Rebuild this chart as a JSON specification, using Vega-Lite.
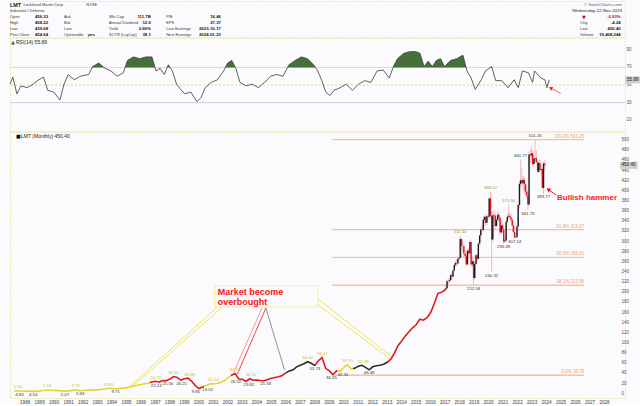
{
"$schema": "https://vega.github.io/schema/vega-lite/v6.json",
"background": "#fbfbfd",
"padding": {"left": 7, "top": 0, "right": 0, "bottom": 0},
"config": {
  "view": {"stroke": "#e0d670", "strokeDash": [1, 2], "strokeWidth": 1},
  "font": "Liberation Sans"
},
"datasets": {
  "hdr": [
    {"k": "T", "u": 0, "r": 0, "s": "LMT", "col": "#111"},
    {"k": "L", "u": 2.2, "r": 0, "s": "Lockheed Martin Corp", "col": "#333"},
    {"k": "L", "u": 12.4, "r": 0, "s": "NYSE", "col": "#333"},
    {"k": "R", "u": 99.5, "r": 0, "s": "© StockCharts.com", "col": "#555"},
    {"k": "L", "u": 0, "r": 1, "s": "Industrial / Defense", "col": "#333"},
    {"k": "R", "u": 99.5, "r": 1, "s": "Wednesday  22-Nov-2023", "col": "#222"},
    {"k": "L", "u": 0, "r": 2, "s": "Open", "col": "#333"},
    {"k": "L", "u": 8.8, "r": 2, "s": "Ask", "col": "#333"},
    {"k": "L", "u": 16.1, "r": 2, "s": "Mkt Cap.", "col": "#333"},
    {"k": "L", "u": 25.4, "r": 2, "s": "P/E", "col": "#333"},
    {"k": "V", "u": 6.2, "r": 2, "s": "456.33", "col": "#111"},
    {"k": "V", "u": 22.9, "r": 2, "s": "111.7B", "col": "#111"},
    {"k": "V", "u": 34.3, "r": 2, "s": "16.46", "col": "#111"},
    {"k": "G", "u": 93.0, "r": 2, "s": "▼", "col": "#c0102a"},
    {"k": "V", "u": 99.3, "r": 2, "s": "-0.93%", "col": "#c0102a"},
    {"k": "L", "u": 0, "r": 3, "s": "High", "col": "#333"},
    {"k": "L", "u": 8.8, "r": 3, "s": "Bid", "col": "#333"},
    {"k": "L", "u": 16.1, "r": 3, "s": "Annual Dividend", "col": "#333"},
    {"k": "L", "u": 25.4, "r": 3, "s": "EPS", "col": "#333"},
    {"k": "V", "u": 6.2, "r": 3, "s": "458.22", "col": "#111"},
    {"k": "V", "u": 22.9, "r": 3, "s": "12.0", "col": "#111"},
    {"k": "V", "u": 34.3, "r": 3, "s": "27.37", "col": "#111"},
    {"k": "L", "u": 92.7, "r": 3, "s": "Chg", "col": "#333"},
    {"k": "V", "u": 99.3, "r": 3, "s": "-4.24", "col": "#111"},
    {"k": "L", "u": 0, "r": 4, "s": "Low", "col": "#333"},
    {"k": "L", "u": 8.8, "r": 4, "s": "Last", "col": "#333"},
    {"k": "L", "u": 16.1, "r": 4, "s": "Yield", "col": "#333"},
    {"k": "L", "u": 25.4, "r": 4, "s": "Last Earnings", "col": "#333"},
    {"k": "V", "u": 6.2, "r": 4, "s": "439.68", "col": "#111"},
    {"k": "V", "u": 22.9, "r": 4, "s": "2.66%", "col": "#111"},
    {"k": "V", "u": 34.3, "r": 4, "s": "2023-10-17", "col": "#111"},
    {"k": "L", "u": 92.7, "r": 4, "s": "Last", "col": "#333"},
    {"k": "V", "u": 99.3, "r": 4, "s": "450.40", "col": "#111"},
    {"k": "L", "u": 0, "r": 5, "s": "Prev Close", "col": "#333"},
    {"k": "L", "u": 8.8, "r": 5, "s": "Optionable", "col": "#333"},
    {"k": "L", "u": 16.1, "r": 5, "s": "SCTR (LrgCap)", "col": "#333"},
    {"k": "L", "u": 25.4, "r": 5, "s": "Next Earnings", "col": "#333"},
    {"k": "V", "u": 6.2, "r": 5, "s": "454.64", "col": "#111"},
    {"k": "V", "u": 13.8, "r": 5, "s": "yes", "col": "#111"},
    {"k": "V", "u": 22.9, "r": 5, "s": "38.1", "col": "#111"},
    {"k": "V", "u": 34.3, "r": 5, "s": "2024-01-23", "col": "#111"},
    {"k": "L", "u": 92.7, "r": 5, "s": "Volume", "col": "#333"},
    {"k": "V", "u": 99.3, "r": 5, "s": "19,408,244", "col": "#111"}
  ],
  "rsilv": [
    {"v": 70, "d": 0, "col": "#ece27a"},
    {"v": 30, "d": 0, "col": "#cfcfe8"},
    {"v": 50, "d": 1, "col": "#e6da5a"}
  ],
  "rt": [{"v": 10, "x": 2029.07}, {"v": 30, "x": 2029.07}, {"v": 50, "x": 2029.07}, {"v": 70, "x": 2029.07}, {"v": 90, "x": 2029.07}],
  "rsi": [
    {"t":1987.30,"v":51},{"t":1987.49,"v":59},{"t":1987.77,"v":40},{"t":1988.05,"v":49},{"t":1988.47,"v":47},{"t":1988.88,"v":51},
    {"t":1989.16,"v":55},{"t":1989.58,"v":59},{"t":1989.86,"v":44},{"t":1990.27,"v":42},{"t":1990.69,"v":33},{"t":1990.97,"v":51},
    {"t":1991.25,"v":62},{"t":1991.66,"v":56},{"t":1992.08,"v":60},{"t":1992.64,"v":62},{"t":1992.91,"v":71},{"t":1993.33,"v":75},
    {"t":1993.75,"v":69},{"t":1994.16,"v":66},{"t":1994.58,"v":60},{"t":1995.00,"v":64},{"t":1995.28,"v":78},{"t":1995.69,"v":82},
    {"t":1996.11,"v":80},{"t":1996.53,"v":82},{"t":1996.94,"v":82},{"t":1997.22,"v":66},{"t":1997.50,"v":69},{"t":1997.78,"v":62},
    {"t":1998.05,"v":73},{"t":1998.33,"v":66},{"t":1998.61,"v":51},{"t":1998.89,"v":45},{"t":1999.17,"v":40},{"t":1999.58,"v":42},
    {"t":2000.00,"v":31},{"t":2000.28,"v":36},{"t":2000.56,"v":47},{"t":2000.97,"v":53},{"t":2001.39,"v":56},{"t":2001.81,"v":66},
    {"t":2002.08,"v":75},{"t":2002.36,"v":78},{"t":2002.64,"v":69},{"t":2002.92,"v":53},{"t":2003.33,"v":49},{"t":2003.75,"v":51},
    {"t":2004.17,"v":47},{"t":2004.59,"v":53},{"t":2005.00,"v":60},{"t":2005.42,"v":62},{"t":2005.84,"v":60},{"t":2006.25,"v":73},
    {"t":2006.67,"v":78},{"t":2007.09,"v":82},{"t":2007.50,"v":80},{"t":2007.92,"v":73},{"t":2008.20,"v":66},{"t":2008.48,"v":55},
    {"t":2008.75,"v":42},{"t":2009.03,"v":38},{"t":2009.31,"v":44},{"t":2009.73,"v":47},{"t":2010.14,"v":51},{"t":2010.56,"v":44},
    {"t":2010.98,"v":51},{"t":2011.39,"v":55},{"t":2011.81,"v":53},{"t":2012.23,"v":66},{"t":2012.65,"v":67},{"t":2013.06,"v":58},
    {"t":2013.34,"v":71},{"t":2013.62,"v":80},{"t":2014.03,"v":86},{"t":2014.45,"v":88},{"t":2014.87,"v":88},{"t":2015.15,"v":86},
    {"t":2015.42,"v":71},{"t":2015.70,"v":77},{"t":2015.98,"v":71},{"t":2016.26,"v":78},{"t":2016.54,"v":80},{"t":2016.81,"v":71},
    {"t":2017.23,"v":78},{"t":2017.65,"v":80},{"t":2018.06,"v":84},{"t":2018.34,"v":66},{"t":2018.62,"v":58},{"t":2018.90,"v":45},
    {"t":2019.31,"v":56},{"t":2019.59,"v":66},{"t":2020.01,"v":71},{"t":2020.29,"v":55},{"t":2020.70,"v":55},{"t":2021.12,"v":47},
    {"t":2021.54,"v":56},{"t":2021.82,"v":47},{"t":2022.10,"v":66},{"t":2022.51,"v":64},{"t":2022.79,"v":53},{"t":2022.93,"v":66},
    {"t":2023.35,"v":58},{"t":2023.63,"v":56},{"t":2023.77,"v":47},{"t":2023.92,"v":55.89}
  ],
  "ob": [
    {"seg":1,"t":1992.88,"v":70},{"seg":1,"t":1992.91,"v":71},{"seg":1,"t":1993.33,"v":75},{"seg":1,"t":1993.68,"v":70},
    {"seg":2,"t":1995.12,"v":70},{"seg":2,"t":1995.28,"v":78},{"seg":2,"t":1995.69,"v":82},{"seg":2,"t":1996.11,"v":80},{"seg":2,"t":1996.53,"v":82},{"seg":2,"t":1996.94,"v":82},{"seg":2,"t":1997.15,"v":70},
    {"seg":3,"t":1997.98,"v":70},{"seg":3,"t":1998.05,"v":73},{"seg":3,"t":1998.17,"v":70},
    {"seg":4,"t":2001.93,"v":70},{"seg":4,"t":2002.08,"v":75},{"seg":4,"t":2002.36,"v":78},{"seg":4,"t":2002.61,"v":70},
    {"seg":5,"t":2006.16,"v":70},{"seg":5,"t":2006.25,"v":73},{"seg":5,"t":2006.67,"v":78},{"seg":5,"t":2007.09,"v":82},{"seg":5,"t":2007.50,"v":80},{"seg":5,"t":2007.92,"v":73},{"seg":5,"t":2008.04,"v":70},
    {"seg":6,"t":2013.32,"v":70},{"seg":6,"t":2013.34,"v":71},{"seg":6,"t":2013.62,"v":80},{"seg":6,"t":2014.03,"v":86},{"seg":6,"t":2014.45,"v":88},{"seg":6,"t":2014.87,"v":88},{"seg":6,"t":2015.15,"v":86},{"seg":6,"t":2015.42,"v":71},{"seg":6,"t":2015.70,"v":77},{"seg":6,"t":2015.98,"v":71},{"seg":6,"t":2016.26,"v":78},{"seg":6,"t":2016.54,"v":80},{"seg":6,"t":2016.81,"v":71},{"seg":6,"t":2017.23,"v":78},{"seg":6,"t":2017.65,"v":80},{"seg":6,"t":2018.06,"v":84},{"seg":6,"t":2018.28,"v":70},
    {"seg":7,"t":2019.93,"v":70},{"seg":7,"t":2020.01,"v":71},{"seg":7,"t":2020.03,"v":70}
  ],
  "rarr": [{"t1": 2024.7, "v1": 40.6, "t2": 2024.02, "v2": 46.5}],
  "legr": [{"s": "RSI(14) 55.89", "t": 1987.3, "v": 103.5}],
  "tagr": [{"v": 55.89, "s": "55.89", "t": 2029.07}],
  "xt": [
    {"t":1988,"p":-8.5},{"t":1989,"p":-8.5},{"t":1990,"p":-8.5},{"t":1991,"p":-8.5},{"t":1992,"p":-8.5},{"t":1993,"p":-8.5},{"t":1994,"p":-8.5},
    {"t":1995,"p":-8.5},{"t":1996,"p":-8.5},{"t":1997,"p":-8.5},{"t":1998,"p":-8.5},{"t":1999,"p":-8.5},{"t":2000,"p":-8.5},{"t":2001,"p":-8.5},
    {"t":2002,"p":-8.5},{"t":2003,"p":-8.5},{"t":2004,"p":-8.5},{"t":2005,"p":-8.5},{"t":2006,"p":-8.5},{"t":2007,"p":-8.5},{"t":2008,"p":-8.5},
    {"t":2009,"p":-8.5},{"t":2010,"p":-8.5},{"t":2011,"p":-8.5},{"t":2012,"p":-8.5},{"t":2013,"p":-8.5},{"t":2014,"p":-8.5},{"t":2015,"p":-8.5},
    {"t":2016,"p":-8.5},{"t":2017,"p":-8.5},{"t":2018,"p":-8.5},{"t":2019,"p":-8.5},{"t":2020,"p":-8.5},{"t":2021,"p":-8.5},{"t":2022,"p":-8.5},
    {"t":2023,"p":-8.5},{"t":2024,"p":-8.5},{"t":2025,"p":-8.5},{"t":2026,"p":-8.5},{"t":2027,"p":-8.5},{"t":2028,"p":-8.5}
  ],
  "yt": [
    {"p":0,"t":2029.07},{"p":20,"t":2029.07},{"p":40,"t":2029.07},{"p":60,"t":2029.07},{"p":80,"t":2029.07},{"p":100,"t":2029.07},
    {"p":120,"t":2029.07},{"p":140,"t":2029.07},{"p":160,"t":2029.07},{"p":180,"t":2029.07},{"p":200,"t":2029.07},{"p":220,"t":2029.07},
    {"p":240,"t":2029.07},{"p":260,"t":2029.07},{"p":280,"t":2029.07},{"p":300,"t":2029.07},{"p":320,"t":2029.07},{"p":340,"t":2029.07},
    {"p":360,"t":2029.07},{"p":380,"t":2029.07},{"p":400,"t":2029.07},{"p":420,"t":2029.07},{"p":440,"t":2029.07},{"p":460,"t":2029.07},
    {"p":480,"t":2029.07},{"p":500,"t":2029.07}
  ],
  "px": [
    {"t":1987.25,"c":5.3},{"t":1987.5,"c":5.9},{"t":1987.75,"c":4.9},{"t":1988.0,"c":5.0},{"t":1988.25,"c":5.3},{"t":1988.5,"c":4.6},{"t":1988.75,"c":5.0},
    {"t":1989.0,"c":5.5},{"t":1989.25,"c":6.3},{"t":1989.5,"c":7.4},{"t":1989.75,"c":6.9},{"t":1990.0,"c":6.4},{"t":1990.25,"c":6.0},{"t":1990.5,"c":5.6},{"t":1990.75,"c":5.1},
    {"t":1991.0,"c":5.6},{"t":1991.25,"c":6.6},{"t":1991.5,"c":7.6},{"t":1991.75,"c":6.0},{"t":1992.0,"c":6.4},{"t":1992.25,"c":6.9},{"t":1992.5,"c":7.3},{"t":1992.75,"c":7.6},
    {"t":1993.0,"c":8.0},{"t":1993.25,"c":8.6},{"t":1993.5,"c":9.4},{"t":1993.75,"c":10.6},{"t":1994.0,"c":10.2},{"t":1994.25,"c":9.8},{"t":1994.5,"c":10.3},{"t":1994.75,"c":11.0},
    {"t":1995.0,"c":12.0},{"t":1995.25,"c":13.5},{"t":1995.5,"c":15.2},{"t":1995.75,"c":16.5},{"t":1996.0,"c":18.0},{"t":1996.25,"c":19.5},{"t":1996.5,"c":20.5},{"t":1996.75,"c":23.0},
    {"t":1997.0,"c":24.4},{"t":1997.25,"c":22.6},{"t":1997.5,"c":26.0},{"t":1997.75,"c":25.7},{"t":1998.0,"c":29.0},{"t":1998.25,"c":33.8},{"t":1998.5,"c":32.0},{"t":1998.75,"c":26.8},
    {"t":1999.0,"c":29.5},{"t":1999.25,"c":30.6},{"t":1999.5,"c":24.5},{"t":1999.75,"c":16.0},{"t":2000.0,"c":10.2},{"t":2000.25,"c":13.4},{"t":2000.5,"c":16.0},{"t":2000.75,"c":19.0},
    {"t":2001.0,"c":19.5},{"t":2001.25,"c":20.0},{"t":2001.5,"c":22.0},{"t":2001.75,"c":25.5},{"t":2002.0,"c":31.0},{"t":2002.25,"c":36.5},{"t":2002.5,"c":40.0},{"t":2002.75,"c":29.0},
    {"t":2003.0,"c":28.5},{"t":2003.25,"c":24.2},{"t":2003.5,"c":29.5},{"t":2003.75,"c":26.5},{"t":2004.0,"c":27.0},{"t":2004.25,"c":26.0},{"t":2004.5,"c":25.5},{"t":2004.75,"c":28.0},
    {"t":2005.0,"c":30.5},{"t":2005.25,"c":32.0},{"t":2005.5,"c":33.5},{"t":2005.75,"c":36.0},{"t":2006.0,"c":41.0},{"t":2006.25,"c":45.0},{"t":2006.5,"c":47.0},{"t":2006.75,"c":53.0},
    {"t":2007.0,"c":56.0},{"t":2007.25,"c":59.0},{"t":2007.5,"c":63.0},{"t":2007.75,"c":60.0},{"t":2008.0,"c":55.5},{"t":2008.25,"c":65.0},{"t":2008.5,"c":71.0},{"t":2008.75,"c":50.0},
    {"t":2009.0,"c":45.0},{"t":2009.25,"c":37.5},{"t":2009.5,"c":45.0},{"t":2009.75,"c":44.0},{"t":2010.0,"c":52.0},{"t":2010.25,"c":57.0},{"t":2010.5,"c":49.0},{"t":2010.75,"c":50.0},
    {"t":2011.0,"c":54.0},{"t":2011.25,"c":56.0},{"t":2011.5,"c":52.0},{"t":2011.75,"c":47.0},{"t":2012.0,"c":53.0},{"t":2012.25,"c":55.0},{"t":2012.5,"c":56.0},{"t":2012.75,"c":58.0},
    {"t":2013.0,"c":62.0},{"t":2013.25,"c":68.0},{"t":2013.5,"c":80.0},{"t":2013.75,"c":95.0},{"t":2014.0,"c":104.0},{"t":2014.25,"c":114.0},{"t":2014.5,"c":122.0},{"t":2014.75,"c":130.0},
    {"t":2015.0,"c":136.0},{"t":2015.25,"c":147.0},{"t":2015.5,"c":145.0},{"t":2015.75,"c":150.0},{"t":2016.0,"c":160.0},{"t":2016.25,"c":178.0},{"t":2016.5,"c":198.0},{"t":2016.75,"c":200.0},
    {"t":2017.0,"c":205.0}
  ],
  "cd": [
    {"t":2017.04,"o":205,"h":215,"l":200,"c":208},{"t":2017.13,"o":208,"h":225,"l":206,"c":222},{"t":2017.21,"o":222,"h":227,"l":216,"c":222},
    {"t":2017.29,"o":222,"h":229,"l":219,"c":224},{"t":2017.38,"o":224,"h":236,"l":222,"c":234},{"t":2017.46,"o":234,"h":238,"l":228,"c":231},
    {"t":2017.54,"o":231,"h":246,"l":229,"c":243},{"t":2017.63,"o":243,"h":256,"l":240,"c":254},{"t":2017.71,"o":254,"h":262,"l":250,"c":258},
    {"t":2017.79,"o":258,"h":265,"l":252,"c":257},{"t":2017.88,"o":257,"h":268,"l":254,"c":266},{"t":2017.96,"o":266,"h":272,"l":262,"c":268},
    {"t":2018.04,"o":268,"h":312,"l":266,"c":305},{"t":2018.13,"o":305,"h":307,"l":268,"c":291},{"t":2018.21,"o":291,"h":300,"l":280,"c":291},
    {"t":2018.29,"o":291,"h":296,"l":270,"c":276},{"t":2018.38,"o":276,"h":283,"l":262,"c":271},{"t":2018.46,"o":271,"h":276,"l":252,"c":255},
    {"t":2018.54,"o":255,"h":286,"l":253,"c":282},{"t":2018.63,"o":282,"h":287,"l":272,"c":277},{"t":2018.71,"o":277,"h":303,"l":275,"c":299},
    {"t":2018.79,"o":299,"h":301,"l":250,"c":255},{"t":2018.88,"o":255,"h":270,"l":250,"c":261},{"t":2018.96,"o":261,"h":265,"l":213,"c":228},
    {"t":2019.04,"o":228,"h":260,"l":225,"c":256},{"t":2019.13,"o":256,"h":276,"l":254,"c":273},{"t":2019.21,"o":273,"h":278,"l":262,"c":266},
    {"t":2019.29,"o":266,"h":298,"l":264,"c":296},{"t":2019.38,"o":296,"h":315,"l":292,"c":312},{"t":2019.46,"o":312,"h":327,"l":300,"c":324},
    {"t":2019.54,"o":324,"h":332,"l":318,"c":323},{"t":2019.63,"o":323,"h":345,"l":320,"c":343},{"t":2019.71,"o":343,"h":352,"l":336,"c":349},
    {"t":2019.79,"o":349,"h":352,"l":330,"c":337},{"t":2019.88,"o":337,"h":353,"l":333,"c":350},{"t":2019.96,"o":350,"h":356,"l":343,"c":349},
    {"t":2020.04,"o":349,"h":388,"l":347,"c":385},{"t":2020.13,"o":385,"h":398,"l":345,"c":351},{"t":2020.21,"o":351,"h":360,"l":240,"c":304},
    {"t":2020.29,"o":304,"h":358,"l":300,"c":352},{"t":2020.38,"o":352,"h":362,"l":340,"c":351},{"t":2020.46,"o":351,"h":355,"l":325,"c":331},
    {"t":2020.54,"o":331,"h":348,"l":328,"c":343},{"t":2020.63,"o":343,"h":360,"l":340,"c":353},{"t":2020.71,"o":353,"h":358,"l":336,"c":347},
    {"t":2020.79,"o":347,"h":350,"l":312,"c":318},{"t":2020.88,"o":318,"h":342,"l":315,"c":332},{"t":2020.96,"o":332,"h":336,"l":318,"c":324},
    {"t":2021.04,"o":324,"h":328,"l":296,"c":300},{"t":2021.13,"o":300,"h":310,"l":298,"c":302},{"t":2021.21,"o":302,"h":342,"l":300,"c":339},
    {"t":2021.29,"o":339,"h":355,"l":336,"c":349},{"t":2021.38,"o":349,"h":373,"l":345,"c":351},{"t":2021.46,"o":351,"h":358,"l":343,"c":348},
    {"t":2021.54,"o":348,"h":355,"l":338,"c":343},{"t":2021.63,"o":343,"h":348,"l":330,"c":332},{"t":2021.71,"o":332,"h":338,"l":318,"c":319},
    {"t":2021.79,"o":319,"h":330,"l":307,"c":308},{"t":2021.88,"o":308,"h":318,"l":307,"c":309},{"t":2021.96,"o":309,"h":334,"l":307,"c":330},
    {"t":2022.04,"o":330,"h":375,"l":328,"c":372},{"t":2022.13,"o":372,"h":420,"l":365,"c":414},{"t":2022.21,"o":414,"h":462,"l":408,"c":421},
    {"t":2022.29,"o":421,"h":445,"l":410,"c":415},{"t":2022.38,"o":415,"h":430,"l":400,"c":422},{"t":2022.46,"o":422,"h":428,"l":395,"c":413},
    {"t":2022.54,"o":413,"h":418,"l":390,"c":399},{"t":2022.63,"o":399,"h":410,"l":385,"c":391},{"t":2022.71,"o":391,"h":400,"l":362,"c":373},
    {"t":2022.79,"o":373,"h":478,"l":370,"c":472},{"t":2022.88,"o":472,"h":482,"l":455,"c":470},{"t":2022.96,"o":470,"h":488,"l":462,"c":474},
    {"t":2023.04,"o":474,"h":480,"l":448,"c":453},{"t":2023.13,"o":453,"h":470,"l":450,"c":464},{"t":2023.21,"o":464,"h":501,"l":455,"c":465},
    {"t":2023.29,"o":465,"h":480,"l":455,"c":457},{"t":2023.38,"o":457,"h":460,"l":435,"c":438},{"t":2023.46,"o":438,"h":462,"l":436,"c":455},
    {"t":2023.54,"o":455,"h":462,"l":440,"c":441},{"t":2023.63,"o":441,"h":452,"l":432,"c":443},{"t":2023.71,"o":443,"h":446,"l":405,"c":406},
    {"t":2023.79,"o":406,"h":458,"l":394,"c":454},{"t":2023.88,"o":454,"h":462,"l":440,"c":450.4}
  ],
  "fib": [
    {"p": 36.35, "s": "0.0% 36.35", "t1": 2009.2, "t2": 2026.6},
    {"p": 213.95, "s": "38.2% 213.95", "t1": 2009.2, "t2": 2026.6},
    {"p": 268.81, "s": "50.0% 268.81", "t1": 2009.2, "t2": 2026.6},
    {"p": 323.67, "s": "61.8% 323.67", "t1": 2009.2, "t2": 2026.6},
    {"p": 501.26, "s": "100.0% 501.26", "t1": 2009.2, "t2": 2026.6}
  ],
  "ann": [
    {"t1": 2001.23, "p1": 169.6, "t2": 1995.18, "p2": 13.2, "col": "#efe45c"},
    {"t1": 2001.57, "p1": 169.6, "t2": 1995.45, "p2": 15.2, "col": "#efe45c"},
    {"t1": 2008.22, "p1": 175.0, "t2": 2013.11, "p2": 70.4, "col": "#efe45c"},
    {"t1": 2008.22, "p1": 186.8, "t2": 2013.32, "p2": 72.3, "col": "#efe45c"},
    {"t1": 2004.35, "p1": 169.0, "t2": 2002.38, "p2": 40.8, "col": "#f29a9a"},
    {"t1": 2004.62, "p1": 169.0, "t2": 2002.65, "p2": 38.9, "col": "#e84a4a"},
    {"t1": 2004.62, "p1": 169.0, "t2": 2005.91, "p2": 46.7, "col": "#9c8f84"},
    {"t1": 2024.64, "p1": 391.9, "t2": 2024.12, "p2": 403.0, "col": "#ee1111"}
  ],
  "box": [{"t1": 2001.09, "t2": 2008.22, "p1": 171, "p2": 213}],
  "mk": [
    {"t": 2001.3, "p": 201.2, "s": "Market become"},
    {"t": 2001.3, "p": 181.4, "s": "overbought"}
  ],
  "bh": [{"t": 2024.72, "p": 386, "s": "Bullish hammer"}],
  "parr": [{"t": 2024.12, "p": 403.0}],
  "lbl": [
    {"t":1987.5,"p":5.9,"s":"5.90","pos":"hi","col":"#cbbb12"},
    {"t":1989.5,"p":7.4,"s":"7.44","pos":"hi","col":"#cbbb12"},
    {"t":1991.5,"p":7.6,"s":"7.72","pos":"hi","col":"#cbbb12"},
    {"t":1993.75,"p":10.6,"s":"10.85","pos":"hi","col":"#cbbb12"},
    {"t":1997.0,"p":24.4,"s":"24.72","pos":"hi","col":"#cbbb12"},
    {"t":1998.25,"p":33.8,"s":"34.31","pos":"hi","col":"#cbbb12"},
    {"t":1999.35,"p":30.6,"s":"30.88","pos":"hi","col":"#cbbb12"},
    {"t":2001.0,"p":19.5,"s":"20.14","pos":"hi","col":"#cbbb12"},
    {"t":2002.5,"p":40.0,"s":"40.74","pos":"hi","col":"#cbbb12"},
    {"t":2003.6,"p":29.5,"s":"30.50","pos":"hi","col":"#cbbb12"},
    {"t":2007.5,"p":63.0,"s":"64.44","pos":"hi","col":"#cbbb12"},
    {"t":2008.5,"p":71.0,"s":"74.47","pos":"hi","col":"#cbbb12"},
    {"t":2010.25,"p":57.0,"s":"56.70","pos":"hi","col":"#cbbb12"},
    {"t":2011.35,"p":56.0,"s":"57.28","pos":"hi","col":"#cbbb12"},
    {"t":2018.04,"p":312,"s":"311.64","pos":"hi","col":"#b0a010"},
    {"t":2020.13,"p":398,"s":"396.12","pos":"hi","col":"#b0a010"},
    {"t":2021.38,"p":373,"s":"373.34","pos":"hi","col":"#b0a010"},
    {"t":2022.21,"p":462,"s":"461.77","pos":"hi","col":"#333"},
    {"t":2023.21,"p":501,"s":"501.26","pos":"hi","col":"#333"},
    {"t":1987.6,"p":4.9,"s":"4.83","pos":"lo","col":"#333"},
    {"t":1988.55,"p":4.6,"s":"4.54","pos":"lo","col":"#333"},
    {"t":1990.75,"p":5.1,"s":"5.07","pos":"lo","col":"#333"},
    {"t":1991.8,"p":6.0,"s":"5.94","pos":"lo","col":"#333"},
    {"t":1994.25,"p":9.8,"s":"9.71","pos":"lo","col":"#333"},
    {"t":1997.05,"p":22.6,"s":"22.24","pos":"lo","col":"#333"},
    {"t":1997.85,"p":25.7,"s":"25.56","pos":"lo","col":"#333"},
    {"t":1998.8,"p":26.8,"s":"26.21","pos":"lo","col":"#333"},
    {"t":1999.8,"p":10.2,"s":"9.85","pos":"lo","col":"#333"},
    {"t":2000.6,"p":13.4,"s":"13.02","pos":"lo","col":"#333"},
    {"t":2002.55,"p":29.5,"s":"26.52","pos":"lo","col":"#333"},
    {"t":2003.45,"p":24.2,"s":"23.82","pos":"lo","col":"#333"},
    {"t":2004.6,"p":25.5,"s":"25.33","pos":"lo","col":"#333"},
    {"t":2008.0,"p":55.5,"s":"55.73","pos":"lo","col":"#333"},
    {"t":2009.15,"p":37.5,"s":"36.35","pos":"lo","col":"#333"},
    {"t":2009.95,"p":44.0,"s":"42.31","pos":"lo","col":"#333"},
    {"t":2011.75,"p":47.0,"s":"46.48","pos":"lo","col":"#333"},
    {"t":2018.96,"p":213,"s":"212.58","pos":"lo","col":"#333"},
    {"t":2020.21,"p":240,"s":"240.32","pos":"lo","col":"#333"},
    {"t":2021.04,"p":296,"s":"296.39","pos":"lo","col":"#333"},
    {"t":2021.79,"p":307,"s":"307.24","pos":"lo","col":"#333"},
    {"t":2022.71,"p":362,"s":"361.73","pos":"lo","col":"#333"},
    {"t":2023.79,"p":394,"s":"393.77","pos":"lo","col":"#333"}
  ],
  "legp": [{"s": "LMT (Monthly) 450.40", "t": 1987.3, "p": 516.2}],
  "tagp": [{"p": 450.4, "s": "450.40", "t": 2029.07}]
},
"spacing": 1,
"bounds": "flush",
"vconcat": [
  {
    "width": 615, "height": 36,
    "data": {"name": "hdr"},
    "encoding": {
      "x": {"field": "u", "type": "quantitative", "scale": {"domain": [0, 100], "nice": false, "zero": false}, "axis": null},
      "y": {"field": "r", "type": "quantitative", "scale": {"domain": [-0.667, 5.333], "reverse": true, "nice": false, "zero": false}, "axis": null},
      "text": {"field": "s", "type": "nominal"},
      "color": {"field": "col", "type": "nominal", "scale": null}
    },
    "layer": [
      {"transform": [{"filter": {"field": "k", "equal": "L"}}], "mark": {"type": "text", "align": "left", "baseline": "middle", "fontSize": 4.0}},
      {"transform": [{"filter": {"field": "k", "equal": "T"}}], "mark": {"type": "text", "align": "left", "baseline": "middle", "fontSize": 5.4, "fontWeight": "bold"}},
      {"transform": [{"filter": {"field": "k", "equal": "V"}}], "mark": {"type": "text", "align": "right", "baseline": "middle", "fontSize": 4.3, "fontWeight": "bold"}},
      {"transform": [{"filter": {"field": "k", "equal": "R"}}], "mark": {"type": "text", "align": "right", "baseline": "middle", "fontSize": 4.4}},
      {"transform": [{"filter": {"field": "k", "equal": "G"}}], "mark": {"type": "text", "align": "left", "baseline": "middle", "fontSize": 5, "font": "DejaVu Sans"}}
    ]
  },
  {
    "width": 615, "height": 93,
    "layer": [
      {"data": {"name": "rsilv"}, "transform": [{"filter": {"field": "d", "equal": 0}}],
       "mark": {"type": "rule", "strokeWidth": 1},
       "encoding": {"y": {"field": "v", "type": "quantitative", "scale": {"domain": [-2.3, 103.5], "nice": false, "zero": false}, "axis": null},
                    "color": {"field": "col", "type": "nominal", "scale": null}}},
      {"data": {"name": "rsilv"}, "transform": [{"filter": {"field": "d", "equal": 1}}],
       "mark": {"type": "rule", "strokeWidth": 1, "strokeDash": [2, 2]},
       "encoding": {"y": {"field": "v", "type": "quantitative", "axis": null},
                    "color": {"field": "col", "type": "nominal", "scale": null}}},
      {"data": {"name": "ob"},
       "mark": {"type": "area", "color": "#46703a"},
       "encoding": {"x": {"field": "t", "type": "quantitative", "scale": {"domain": [1987.3, 2029.07], "nice": false, "zero": false}, "axis": null},
                    "y": {"field": "v", "type": "quantitative", "axis": null},
                    "y2": {"datum": 70},
                    "detail": {"field": "seg", "type": "nominal"}}},
      {"data": {"name": "rsi"},
       "mark": {"type": "line", "color": "#3a3a3a", "strokeWidth": 0.8},
       "encoding": {"x": {"field": "t", "type": "quantitative", "axis": null},
                    "y": {"field": "v", "type": "quantitative", "axis": null}}},
      {"data": {"name": "rt"},
       "mark": {"type": "text", "align": "left", "baseline": "middle", "fontSize": 4.6, "color": "#555", "dx": 1.5},
       "encoding": {"x": {"field": "x", "type": "quantitative", "axis": null},
                    "y": {"field": "v", "type": "quantitative", "axis": null},
                    "text": {"field": "v", "type": "quantitative", "format": "d"}}},
      {"data": {"name": "rarr"},
       "mark": {"type": "rule", "color": "#f06060", "strokeWidth": 1},
       "encoding": {"x": {"field": "t1", "type": "quantitative", "axis": null},
                    "x2": {"field": "t2"},
                    "y": {"field": "v1", "type": "quantitative", "axis": null},
                    "y2": {"field": "v2"}}},
      {"data": {"name": "rarr"},
       "mark": {"type": "point", "shape": "triangle-up", "filled": true, "color": "#e81010", "size": 16, "angle": 297, "opacity": 1},
       "encoding": {"x": {"field": "t2", "type": "quantitative", "axis": null},
                    "y": {"field": "v2", "type": "quantitative", "axis": null}}},
      {"data": {"name": "legr"},
       "mark": {"type": "text", "align": "left", "baseline": "top", "fontSize": 5, "color": "#3f6b35", "font": "DejaVu Sans", "dx": 1, "dy": 1.5, "text": "▲"},
       "encoding": {"x": {"field": "t", "type": "quantitative", "axis": null}, "y": {"field": "v", "type": "quantitative", "axis": null}}},
      {"data": {"name": "legr"},
       "mark": {"type": "text", "align": "left", "baseline": "top", "fontSize": 5, "color": "#222", "dx": 6, "dy": 1.5},
       "encoding": {"x": {"field": "t", "type": "quantitative", "axis": null}, "y": {"field": "v", "type": "quantitative", "axis": null}, "text": {"field": "s", "type": "nominal"}}},
      {"data": {"name": "tagr"},
       "mark": {"type": "point", "shape": "M0,-0.44H2V0.44H0Z", "size": 256, "filled": true, "color": "#cfcfcf", "opacity": 1},
       "encoding": {"x": {"field": "t", "type": "quantitative", "axis": null}, "y": {"field": "v", "type": "quantitative", "axis": null}}},
      {"data": {"name": "tagr"},
       "mark": {"type": "text", "align": "left", "baseline": "middle", "fontSize": 4.6, "color": "#111", "dx": 2},
       "encoding": {"x": {"field": "t", "type": "quantitative", "axis": null}, "y": {"field": "v", "type": "quantitative", "axis": null}, "text": {"field": "s", "type": "nominal"}}}
    ]
  },
  {
    "width": 615, "height": 266,
    "layer": [
      {"data": {"name": "fib"},
       "mark": {"type": "rule", "color": "#f4c2a2", "strokeWidth": 1.3},
       "encoding": {"x": {"field": "t1", "type": "quantitative", "scale": {"domain": [1987.3, 2029.07], "nice": false, "zero": false}, "axis": null},
                    "x2": {"field": "t2"},
                    "y": {"field": "p", "type": "quantitative", "scale": {"domain": [-8.5, 516.2], "nice": false, "zero": false}, "axis": null}}},
      {"data": {"name": "fib"},
       "mark": {"type": "text", "align": "right", "baseline": "bottom", "fontSize": 4.5, "color": "#e8a47c", "dy": -1},
       "encoding": {"x": {"field": "t2", "type": "quantitative", "axis": null},
                    "y": {"field": "p", "type": "quantitative", "axis": null},
                    "text": {"field": "s", "type": "nominal"}}},
      {"data": {"name": "box"},
       "mark": {"type": "rect", "fill": "#fbfbfd", "fillOpacity": 0, "stroke": "#ece068", "strokeWidth": 1, "strokeDash": [1, 1]},
       "encoding": {"x": {"field": "t1", "type": "quantitative", "axis": null},
                    "x2": {"field": "t2"},
                    "y": {"field": "p1", "type": "quantitative", "axis": null},
                    "y2": {"field": "p2"}}},
      {"data": {"name": "ann"},
       "mark": {"type": "rule", "strokeWidth": 1},
       "encoding": {"x": {"field": "t1", "type": "quantitative", "axis": null},
                    "x2": {"field": "t2"},
                    "y": {"field": "p1", "type": "quantitative", "axis": null},
                    "y2": {"field": "p2"},
                    "color": {"field": "col", "type": "nominal", "scale": null}}},
      {"data": {"name": "px"},
       "mark": {"type": "line", "strokeWidth": 1.6,
                "stroke": {"gradient": "linear", "x1": 0, "y1": 0, "x2": 1, "y2": 0,
                           "stops": [
                             {"offset": 0, "color": "#e4d430"}, {"offset": 0.314, "color": "#e4d430"},
                             {"offset": 0.315, "color": "#dc1a1a"}, {"offset": 0.439, "color": "#dc1a1a"},
                             {"offset": 0.44, "color": "#e4d430"}, {"offset": 0.503, "color": "#e4d430"},
                             {"offset": 0.504, "color": "#dc1a1a"}, {"offset": 0.63, "color": "#dc1a1a"},
                             {"offset": 0.631, "color": "#2a2a2a"}, {"offset": 0.697, "color": "#2a2a2a"},
                             {"offset": 0.698, "color": "#dc1a1a"}, {"offset": 0.748, "color": "#dc1a1a"},
                             {"offset": 0.749, "color": "#e4d430"}, {"offset": 0.785, "color": "#e4d430"},
                             {"offset": 0.786, "color": "#2a2a2a"}, {"offset": 0.866, "color": "#2a2a2a"},
                             {"offset": 0.867, "color": "#dc1a1a"}, {"offset": 1, "color": "#dc1a1a"}]}},
       "encoding": {"x": {"field": "t", "type": "quantitative", "axis": null},
                    "y": {"field": "c", "type": "quantitative", "axis": null}}},
      {"data": {"name": "cd"},
       "mark": {"type": "rule", "color": "#f3a9b2", "strokeWidth": 0.8},
       "encoding": {"x": {"field": "t", "type": "quantitative", "axis": null},
                    "y": {"field": "l", "type": "quantitative", "axis": null},
                    "y2": {"field": "h"}}},
      {"data": {"name": "cd"},
       "mark": {"type": "bar", "size": 1.4},
       "encoding": {"x": {"field": "t", "type": "quantitative", "axis": null},
                    "y": {"field": "o", "type": "quantitative", "axis": null},
                    "y2": {"field": "c"},
                    "color": {"condition": {"test": "datum.c < datum.o", "value": "#e0141e"}, "value": "#1a1a1a"}}},
      {"data": {"name": "xt"},
       "mark": {"type": "text", "align": "center", "baseline": "top", "fontSize": 4.6, "color": "#444", "dy": 1.5},
       "encoding": {"x": {"field": "t", "type": "quantitative", "axis": null},
                    "y": {"field": "p", "type": "quantitative", "axis": null},
                    "text": {"field": "t", "type": "quantitative", "format": "d"}}},
      {"data": {"name": "yt"},
       "mark": {"type": "text", "align": "left", "baseline": "middle", "fontSize": 4.6, "color": "#555", "dx": 1.5},
       "encoding": {"x": {"field": "t", "type": "quantitative", "axis": null},
                    "y": {"field": "p", "type": "quantitative", "axis": null},
                    "text": {"field": "p", "type": "quantitative", "format": "d"}}},
      {"data": {"name": "lbl"}, "transform": [{"filter": {"field": "pos", "equal": "hi"}}],
       "mark": {"type": "text", "align": "center", "baseline": "bottom", "fontSize": 4.3, "dy": -1.5},
       "encoding": {"x": {"field": "t", "type": "quantitative", "axis": null},
                    "y": {"field": "p", "type": "quantitative", "axis": null},
                    "text": {"field": "s", "type": "nominal"},
                    "color": {"field": "col", "type": "nominal", "scale": null}}},
      {"data": {"name": "lbl"}, "transform": [{"filter": {"field": "pos", "equal": "lo"}}],
       "mark": {"type": "text", "align": "center", "baseline": "top", "fontSize": 4.3, "dy": 1.5},
       "encoding": {"x": {"field": "t", "type": "quantitative", "axis": null},
                    "y": {"field": "p", "type": "quantitative", "axis": null},
                    "text": {"field": "s", "type": "nominal"},
                    "color": {"field": "col", "type": "nominal", "scale": null}}},
      {"data": {"name": "mk"},
       "mark": {"type": "text", "align": "left", "baseline": "middle", "fontSize": 9, "fontWeight": "bold", "color": "#ff1010"},
       "encoding": {"x": {"field": "t", "type": "quantitative", "axis": null},
                    "y": {"field": "p", "type": "quantitative", "axis": null},
                    "text": {"field": "s", "type": "nominal"}}},
      {"data": {"name": "bh"},
       "mark": {"type": "text", "align": "left", "baseline": "middle", "fontSize": 8, "fontWeight": "bold", "color": "#ff1a1a"},
       "encoding": {"x": {"field": "t", "type": "quantitative", "axis": null},
                    "y": {"field": "p", "type": "quantitative", "axis": null},
                    "text": {"field": "s", "type": "nominal"}}},
      {"data": {"name": "parr"},
       "mark": {"type": "point", "shape": "triangle-up", "filled": true, "color": "#ee1111", "size": 22, "angle": 305, "opacity": 1},
       "encoding": {"x": {"field": "t", "type": "quantitative", "axis": null},
                    "y": {"field": "p", "type": "quantitative", "axis": null}}},
      {"data": {"name": "legp"},
       "mark": {"type": "text", "align": "left", "baseline": "top", "fontSize": 5, "color": "#111", "font": "DejaVu Sans", "dx": 1, "dy": 1.5, "text": "■"},
       "encoding": {"x": {"field": "t", "type": "quantitative", "axis": null}, "y": {"field": "p", "type": "quantitative", "axis": null}}},
      {"data": {"name": "legp"},
       "mark": {"type": "text", "align": "left", "baseline": "top", "fontSize": 5, "color": "#222", "dx": 6, "dy": 1.5},
       "encoding": {"x": {"field": "t", "type": "quantitative", "axis": null}, "y": {"field": "p", "type": "quantitative", "axis": null}, "text": {"field": "s", "type": "nominal"}}},
      {"data": {"name": "tagp"},
       "mark": {"type": "point", "shape": "M0,-0.44H2.2V0.44H0Z", "size": 256, "filled": true, "color": "#cfcfcf", "opacity": 1},
       "encoding": {"x": {"field": "t", "type": "quantitative", "axis": null}, "y": {"field": "p", "type": "quantitative", "axis": null}}},
      {"data": {"name": "tagp"},
       "mark": {"type": "text", "align": "left", "baseline": "middle", "fontSize": 4.6, "color": "#111", "dx": 1.5},
       "encoding": {"x": {"field": "t", "type": "quantitative", "axis": null}, "y": {"field": "p", "type": "quantitative", "axis": null}, "text": {"field": "s", "type": "nominal"}}}
    ]
  }
]
}
